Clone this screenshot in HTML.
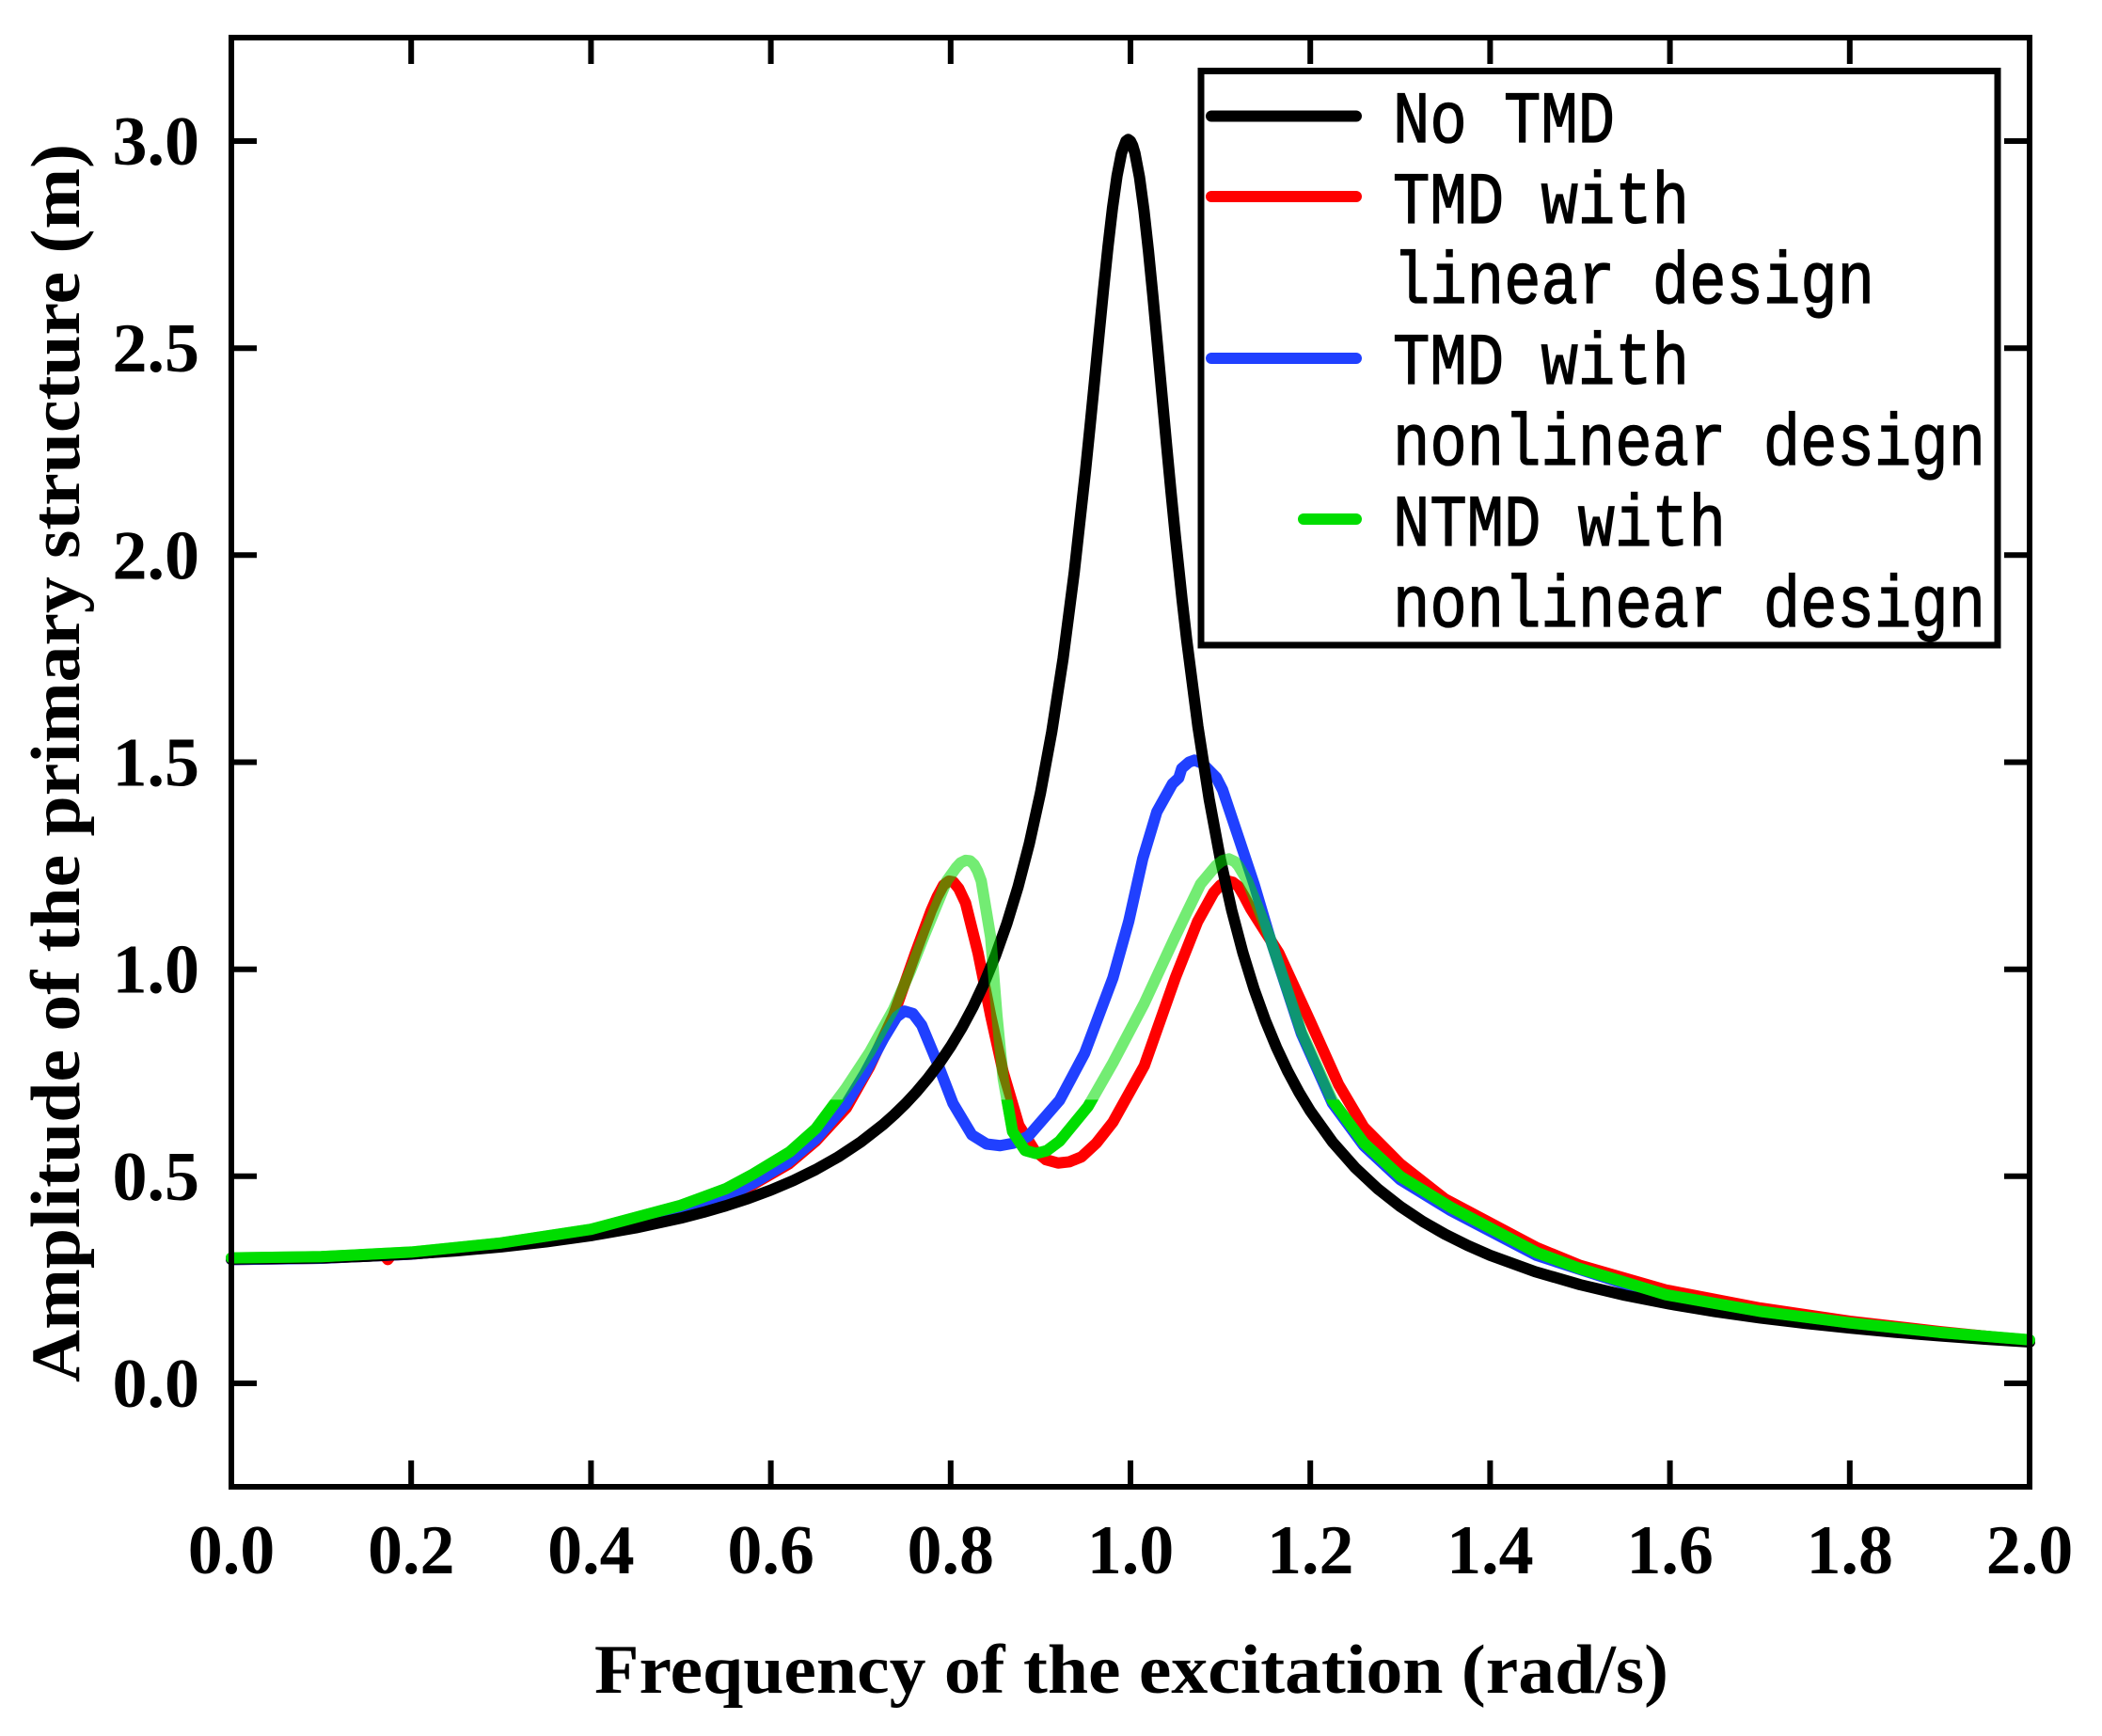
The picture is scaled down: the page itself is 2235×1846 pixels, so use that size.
<!DOCTYPE html>
<html><head><meta charset="utf-8"><style>html,body{margin:0;padding:0;background:#fff}svg{display:block}</style></head>
<body>
<svg width="2235" height="1846" viewBox="0 0 2235 1846" xmlns="http://www.w3.org/2000/svg">
<rect width="2235" height="1846" fill="#fff"/>
<defs>
<clipPath id="low" clipPathUnits="userSpaceOnUse"><rect x="-0.2" y="-0.3" width="2.4" height="0.985"/></clipPath>
</defs>

<!-- curves in data coordinates -->
<g transform="translate(246,1471) scale(956,-440.33)" fill="none" stroke-linejoin="round" stroke-linecap="round">
<path vector-effect="non-scaling-stroke" stroke="#ff0000" stroke-width="12" d="M0 0.299 L0.1 0.302 L0.17 0.309 L0.174 0.299 L0.178 0.31 L0.2 0.312 L0.3 0.331 L0.4 0.362 L0.5 0.412 L0.55 0.447 L0.58 0.48 L0.62 0.53 L0.65 0.585 L0.684 0.665 L0.71 0.765 L0.7364 0.888 L0.7608 1.039 L0.778 1.14 L0.785 1.175 L0.792 1.203 L0.798 1.213 L0.803 1.211 L0.809 1.195 L0.8166 1.16 L0.8305 1.039 L0.8445 0.888 L0.8584 0.752 L0.8759 0.623 L0.8933 0.5625 L0.906 0.54 L0.9195 0.532 L0.932 0.535 L0.9456 0.547 L0.962 0.58 L0.9805 0.631 L1.0154 0.767 L1.05 0.98 L1.0746 1.115 L1.0925 1.185 L1.1 1.203 L1.1077 1.2135 L1.114 1.21 L1.12 1.2 L1.126 1.178 L1.134 1.145 L1.165 1.039 L1.197 0.888 L1.2315 0.7215 L1.2594 0.619 L1.3 0.53 L1.35 0.445 L1.4516 0.328 L1.5 0.285 L1.5956 0.2255 L1.7 0.182 L1.8 0.15 L1.9 0.125 L2.0 0.103"/>
<path vector-effect="non-scaling-stroke" stroke="#2040ff" stroke-width="12" d="M0 0.299 L0.1 0.302 L0.2 0.312 L0.3 0.331 L0.4 0.363 L0.5 0.414 L0.55 0.45 L0.58 0.483 L0.62 0.535 L0.65 0.59 L0.684 0.675 L0.705 0.75 L0.726 0.835 L0.74 0.885 L0.7486 0.899 L0.758 0.893 L0.7678 0.865 L0.7852 0.774 L0.8026 0.676 L0.8236 0.6 L0.84 0.578 L0.855 0.574 L0.87 0.58 L0.8863 0.5966 L0.9212 0.6836 L0.949 0.797 L0.9805 0.979 L0.998 1.115 L1.0136 1.2666 L1.0293 1.38 L1.0467 1.448 L1.0537 1.462 L1.057 1.485 L1.065 1.5 L1.0711 1.505 L1.08 1.497 L1.0955 1.463 L1.1025 1.433 L1.12 1.3195 L1.1374 1.206 L1.155 1.077 L1.19 0.845 L1.2245 0.677 L1.2594 0.574 L1.3 0.492 L1.3555 0.418 L1.4516 0.309 L1.5956 0.208 L1.7 0.17 L1.8 0.142 L1.9 0.12 L2.0 0.101"/>
<path vector-effect="non-scaling-stroke" stroke="#000000" stroke-width="12" d="M0 0.3 L0.1 0.30301 L0.15 0.30687 L0.2 0.31243 L0.25 0.31989 L0.3 0.32949 L0.35 0.34161 L0.4 0.35674 L0.45 0.37558 L0.5 0.39911 L0.525 0.41307 L0.55 0.42877 L0.575 0.44654 L0.6 0.4667 L0.625 0.48974 L0.65 0.51622 L0.675 0.5469 L0.7 0.58277 L0.725 0.62515 L0.7375 0.64933 L0.75 0.67586 L0.7625 0.70508 L0.775 0.7374 L0.7875 0.77335 L0.8 0.81349 L0.8125 0.85856 L0.825 0.90948 L0.8375 0.96738 L0.85 1.03367 L0.8625 1.11021 L0.875 1.19914 L0.8875 1.30356 L0.9 1.42695 L0.9125 1.57393 L0.925 1.74958 L0.9375 1.95899 L0.95 2.20378 L0.955 2.31043 L0.96 2.4204 L0.965 2.53167 L0.97 2.6411 L0.975 2.74502 L0.98 2.8383 L0.985 2.91537 L0.99 2.97089 L0.995 3.0 L0.9975 3.00375 L1.0 3.0 L1.0025 2.98883 L1.005 2.97033 L1.01 2.91318 L1.015 2.8327 L1.02 2.73448 L1.025 2.62421 L1.03 2.5071 L1.035 2.38779 L1.04 2.26946 L1.045 2.15448 L1.05 2.04447 L1.0575 1.89061 L1.0625 1.79587 L1.075 1.58613 L1.0875 1.41123 L1.1 1.26546 L1.1125 1.14325 L1.125 1.03998 L1.1375 0.95193 L1.15 0.87619 L1.1625 0.81052 L1.175 0.75311 L1.1875 0.70257 L1.2 0.65779 L1.225 0.58208 L1.25 0.52064 L1.275 0.46986 L1.3 0.42726 L1.325 0.39106 L1.35 0.35993 L1.375 0.3329 L1.4 0.30923 L1.45 0.26978 L1.5 0.23829 L1.55 0.21261 L1.6 0.1913 L1.65 0.17337 L1.7 0.15809 L1.75 0.14493 L1.8 0.1335 L1.85 0.12348 L1.9 0.11464 L1.95 0.10679 L2.0 0.09978"/>
<path vector-effect="non-scaling-stroke" stroke="#00dd00" stroke-opacity="0.55" stroke-width="12" d="M0 0.303 L0.1 0.306 L0.2 0.317 L0.3 0.339 L0.4 0.372 L0.5 0.43 L0.55 0.47 L0.58 0.505 L0.621 0.559 L0.65 0.615 L0.684 0.714 L0.71 0.8 L0.7364 0.903 L0.755 0.995 L0.7713 1.085 L0.7957 1.2135 L0.806 1.245 L0.811 1.257 L0.8166 1.263 L0.8215 1.262 L0.826 1.253 L0.83 1.237 L0.834 1.2135 L0.8445 1.077 L0.8515 0.888 L0.8584 0.7365 L0.8689 0.608 L0.8828 0.5625 L0.895 0.555 L0.907 0.562 L0.9212 0.585 L0.9526 0.668 L0.9805 0.774 L1.0154 0.918 L1.05 1.08 L1.078 1.206 L1.095 1.25 L1.102 1.262 L1.1095 1.2666 L1.116 1.26 L1.12 1.25 L1.13 1.2135 L1.155 1.077 L1.19 0.85 L1.2245 0.6836 L1.2594 0.581 L1.3 0.5 L1.3555 0.426 L1.4516 0.316 L1.5 0.277 L1.5956 0.214 L1.7 0.174 L1.8 0.146 L1.9 0.123 L2.0 0.105"/>
<path clip-path="url(#low)" vector-effect="non-scaling-stroke" stroke="#00dd00" stroke-width="12" d="M0 0.303 L0.1 0.306 L0.2 0.317 L0.3 0.339 L0.4 0.372 L0.5 0.43 L0.55 0.47 L0.58 0.505 L0.621 0.559 L0.65 0.615 L0.684 0.714 L0.71 0.8 L0.7364 0.903 L0.755 0.995 L0.7713 1.085 L0.7957 1.2135 L0.806 1.245 L0.811 1.257 L0.8166 1.263 L0.8215 1.262 L0.826 1.253 L0.83 1.237 L0.834 1.2135 L0.8445 1.077 L0.8515 0.888 L0.8584 0.7365 L0.8689 0.608 L0.8828 0.5625 L0.895 0.555 L0.907 0.562 L0.9212 0.585 L0.9526 0.668 L0.9805 0.774 L1.0154 0.918 L1.05 1.08 L1.078 1.206 L1.095 1.25 L1.102 1.262 L1.1095 1.2666 L1.116 1.26 L1.12 1.25 L1.13 1.2135 L1.155 1.077 L1.19 0.85 L1.2245 0.6836 L1.2594 0.581 L1.3 0.5 L1.3555 0.426 L1.4516 0.316 L1.5 0.277 L1.5956 0.214 L1.7 0.174 L1.8 0.146 L1.9 0.123 L2.0 0.105"/>
</g>

<!-- ticks -->
<g stroke="#000" stroke-width="6" fill="none">
<path d="M437.2 1581 V1553 M628.4 1581 V1553 M819.6 1581 V1553 M1010.8 1581 V1553 M1202 1581 V1553 M1393.2 1581 V1553 M1584.4 1581 V1553 M1775.6 1581 V1553 M1966.8 1581 V1553"/>
<path d="M437.2 40 V68 M628.4 40 V68 M819.6 40 V68 M1010.8 40 V68 M1202 40 V68 M1393.2 40 V68 M1584.4 40 V68 M1775.6 40 V68 M1966.8 40 V68"/>
<path d="M246 1471 H273 M246 1250.8 H273 M246 1030.7 H273 M246 810.5 H273 M246 590.3 H273 M246 370.2 H273 M246 150 H273"/>
<path d="M2158 1471 H2131 M2158 1250.8 H2131 M2158 1030.7 H2131 M2158 810.5 H2131 M2158 590.3 H2131 M2158 370.2 H2131 M2158 150 H2131"/>
</g>
<!-- frame -->
<rect x="246" y="40" width="1912" height="1541" fill="none" stroke="#000" stroke-width="6"/>

<!-- legend -->
<rect x="1277" y="75.5" width="847" height="610.5" fill="#fff" stroke="#000" stroke-width="7"/>
<g stroke-width="12" stroke-linecap="round">
<line x1="1288" y1="123.5" x2="1442" y2="123.5" stroke="#000"/>
<line x1="1288" y1="209" x2="1442" y2="209" stroke="#ff0000"/>
<line x1="1288" y1="381" x2="1442" y2="381" stroke="#2040ff"/>
<line x1="1386" y1="552" x2="1442" y2="552" stroke="#00dd00"/>
</g>
<g font-family="'Liberation Mono', 'DejaVu Sans Mono', monospace" font-size="78" fill="#000" stroke="#000" stroke-width="1.3">
<text x="1481" y="151" textLength="236" lengthAdjust="spacingAndGlyphs">No TMD</text>
<text x="1481" y="237" textLength="315" lengthAdjust="spacingAndGlyphs">TMD with</text>
<text x="1481" y="322" textLength="512" lengthAdjust="spacingAndGlyphs">linear design</text>
<text x="1481" y="408" textLength="315" lengthAdjust="spacingAndGlyphs">TMD with</text>
<text x="1481" y="494" textLength="630" lengthAdjust="spacingAndGlyphs">nonlinear design</text>
<text x="1481" y="580" textLength="354" lengthAdjust="spacingAndGlyphs">NTMD with</text>
<text x="1481" y="666" textLength="630" lengthAdjust="spacingAndGlyphs">nonlinear design</text>
</g>

<!-- tick labels -->
<g font-family="'Liberation Serif', 'Times New Roman', serif" font-weight="bold" font-size="74" fill="#000">
<g text-anchor="middle">
<text x="246" y="1673">0.0</text>
<text x="437.2" y="1673">0.2</text>
<text x="628.4" y="1673">0.4</text>
<text x="819.6" y="1673">0.6</text>
<text x="1010.8" y="1673">0.8</text>
<text x="1202" y="1673">1.0</text>
<text x="1393.2" y="1673">1.2</text>
<text x="1584.4" y="1673">1.4</text>
<text x="1775.6" y="1673">1.6</text>
<text x="1966.8" y="1673">1.8</text>
<text x="2158" y="1673">2.0</text>
</g>
<g text-anchor="end">
<text x="212" y="1496">0.0</text>
<text x="212" y="1275.8">0.5</text>
<text x="212" y="1055.7">1.0</text>
<text x="212" y="835.5">1.5</text>
<text x="212" y="615.3">2.0</text>
<text x="212" y="395.2">2.5</text>
<text x="212" y="175">3.0</text>
</g>
</g>

<!-- axis titles -->
<g font-family="'Liberation Serif', 'Times New Roman', serif" font-weight="bold" font-size="74" fill="#000">
<text x="632" y="1800" textLength="1142" lengthAdjust="spacingAndGlyphs">Frequency of the excitation (rad/s)</text>
<text transform="translate(84,1470) rotate(-90)" x="0" y="0" textLength="1317" lengthAdjust="spacingAndGlyphs">Amplitude of the primary structure (m)</text>
</g>
</svg>
</body></html>
